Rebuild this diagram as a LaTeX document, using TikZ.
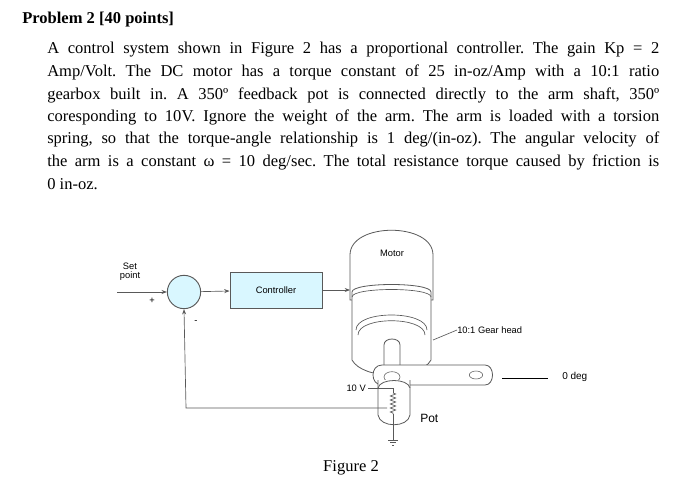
\documentclass[tikz,border=0pt]{standalone}
\usepackage{fontspec}
\setmainfont{Liberation Serif}
\newfontfamily\sansf{Liberation Sans}
\usetikzlibrary{arrows.meta,decorations.pathmorphing}
\begin{document}
\frenchspacing
\begin{tikzpicture}[x=0.75pt,y=-0.75pt,
  txt/.style={anchor=west,inner sep=0,font=\fontsize{12.4pt}{14pt}\selectfont},
  lab/.style={inner sep=0,font=\sansf\fontsize{7pt}{7.5pt}\selectfont},
  sig/.style={-{Stealth[length=4pt]},line width=0.5pt,gray!70!black},
  dev/.style={draw=gray!70!black,line width=0.6pt,fill=white}]
\useasboundingbox (0,0) rectangle (681,492);
\node[txt,font=\bfseries\fontsize{12.4pt}{14pt}\selectfont] (title) at (22,20) {Problem 2 [40 points]};
\def\L#1#2{\node[txt] at (47,#1) {\makebox[459pt][s]{#2}};}
\L{50}{A control system shown in Figure 2 has a proportional controller. The gain Kp = 2}
\L{72}{Amp/Volt. The DC motor has a torque constant of 25 in-oz/Amp with a 10:1 ratio}
\L{95}{gearbox built in. A 350º feedback pot is connected directly to the arm shaft, 350º}
\L{117}{coresponding to 10V. Ignore the weight of the arm. The arm is loaded with a torsion}
\L{139}{spring, so that the torque-angle relationship is 1 deg/(in-oz). The angular velocity of}
\L{162}{the arm is a constant ω = 10 deg/sec. The total resistance torque caused by friction is}
\node[txt] (l7) at (47,184) {0 in-oz.};
% motor
\draw[dev] (350,300) -- (350,255) .. controls (350,222) and (433,222) .. (433,255) -- (433,300) -- cycle;
\draw[dev] (352,360) -- (352,292) .. controls (352,282) and (431,282) .. (431,292) -- (431,360) .. controls (420,380) and (363,380) .. (352,360) -- cycle;
\draw[gray!70!black,line width=0.5pt] (352,297) .. controls (352,287) and (431,287) .. (431,297);
\draw[gray!70!black,line width=0.5pt] (356,330) .. controls (356,310) and (427,310) .. (427,330);
\draw[gray!70!black,line width=0.5pt] (358,335) .. controls (358,316) and (425,316) .. (425,335);
\node[lab] (motor) at (392,253) {Motor};
% shaft and arm
\draw[dev] (384,345) -- (384,370) -- (400,370) -- (400,345) .. controls (400,337) and (384,337) .. (384,345) -- cycle;
\draw[dev] (382,365) -- (485,365) .. controls (495,365) and (495,385) .. (485,385) -- (382,385) .. controls (370,385) and (370,365) .. (382,365) -- cycle;
\draw[gray!70!black] (476,375) ellipse (5pt and 3pt);
\draw[gray!70!black] (392,377) ellipse (6pt and 4pt);
% pot
\draw[dev] (378,380) -- (378,415) .. controls (380,428) and (408,428) .. (410,415) -- (410,380);
\draw[dev] (378,388) .. controls (380,378) and (408,378) .. (410,388);
\coordinate (v10) at (368,388);
\coordinate (rtop) at (393,393);
\coordinate (rbot) at (393,414);
\coordinate (gnd) at (393,440);
\draw[gray!70!black,line width=0.5pt] (v10) -- (393,388) -- (rtop);
\draw[gray!70!black,line width=0.5pt,decorate,decoration={zigzag,segment length=3pt,amplitude=2pt}] (rtop) -- (rbot);
\draw[gray!70!black,line width=0.5pt] (rbot) -- (gnd);
\draw[gray!70!black,line width=0.5pt] (388,440) -- (398,440) (390,442.5) -- (396,442.5) (392,445) -- (394,445);
\node[lab,anchor=east] (tenv) at (366,388) {10 V};
\node[anchor=west,inner sep=0,font=\sansf\fontsize{9pt}{10pt}\selectfont] (pot) at (420,418) {Pot};
% block diagram
\node[draw=gray!70!black,fill=blue!20!cyan!15,minimum width=69pt,minimum height=27pt,line width=0.7pt,lab] (ctrl) at (276,290) {Controller};
\node[circle,draw=gray!70!black,fill=blue!20!cyan!15,minimum size=25pt,line width=0.7pt,inner sep=0] (sum) at (184,292) {};
\coordinate (sp) at (117,292);
\coordinate (fb) at (186,408);
\coordinate (motin) at (350,290);
\node[lab,align=center] (setp) at (130,272) {Set\\[-1pt]point};
\node[lab] (plus) at (152,301) {+};
\node[lab] (minus) at (196,322) {-};
\draw[sig] (sp) -- (sum);
\draw[sig] (sum) -- (ctrl);
\draw[sig] (ctrl) -- (motin);
\draw[sig] (387,408) -- (fb) -- (sum.south);
% gear head label
\node[lab,anchor=west] (gear) at (457,330) {10:1 Gear head};
\draw[gray!70!black,line width=0.5pt] (gear.west) -- (433,340);
% 0 deg
\coordinate (zl) at (502,378);
\coordinate (zr) at (548,378);
\node[anchor=west,inner sep=0,font=\sansf\fontsize{7.5pt}{8pt}\selectfont] (zero) at (562,377) {0 deg};
\draw[line width=0.6pt] (zl) -- (zr);
\node[inner sep=0,font=\fontsize{12.4pt}{14pt}\selectfont] (fig) at (351,468) {Figure 2};
\end{tikzpicture}
\end{document}
